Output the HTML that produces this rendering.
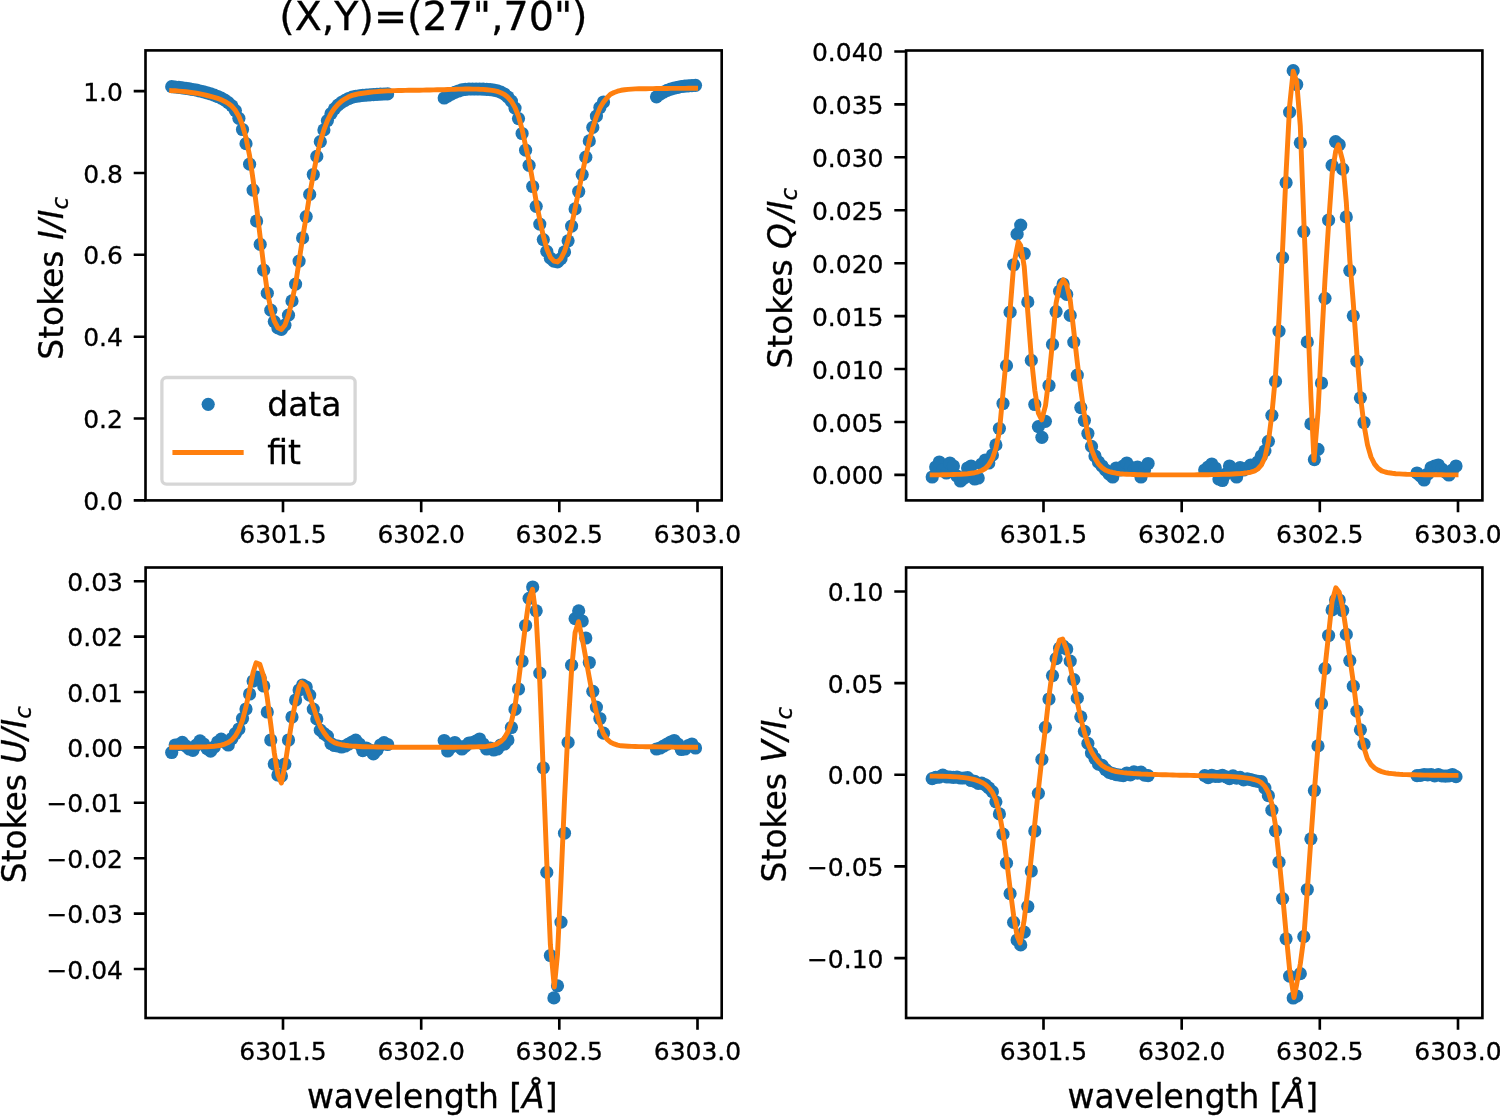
<!DOCTYPE html>
<html lang="en"><head><meta charset="utf-8"><title>Stokes profiles fit</title>
<style>html,body{margin:0;padding:0;background:#fff}svg{display:block}svg text{stroke:#000;stroke-width:0.3px;paint-order:stroke}</style></head>
<body>
<svg width="1500" height="1116" viewBox="0 0 1500 1116" font-family="'DejaVu Sans','Liberation Sans',sans-serif" >
<rect width="1500" height="1116" fill="#fff"/>
<g id="ax0">
<clipPath id="c0"><rect x="145.5" y="50.4" width="576.2" height="450.0"/></clipPath>
<g clip-path="url(#c0)">
<g fill="#1f77b4"><circle cx="171.7" cy="86.7" r="6.6"/><circle cx="175.2" cy="87.0" r="6.6"/><circle cx="178.8" cy="87.4" r="6.6"/><circle cx="182.3" cy="87.9" r="6.6"/><circle cx="185.9" cy="88.4" r="6.6"/><circle cx="189.4" cy="88.9" r="6.6"/><circle cx="192.9" cy="89.5" r="6.6"/><circle cx="196.5" cy="90.2" r="6.6"/><circle cx="200.0" cy="91.0" r="6.6"/><circle cx="203.6" cy="91.9" r="6.6"/><circle cx="207.1" cy="92.9" r="6.6"/><circle cx="210.6" cy="93.9" r="6.6"/><circle cx="214.2" cy="95.1" r="6.6"/><circle cx="217.7" cy="96.5" r="6.6"/><circle cx="221.2" cy="98.2" r="6.6"/><circle cx="224.8" cy="100.1" r="6.6"/><circle cx="228.3" cy="102.6" r="6.6"/><circle cx="231.9" cy="105.8" r="6.6"/><circle cx="235.4" cy="110.6" r="6.6"/><circle cx="238.9" cy="118.3" r="6.6"/><circle cx="242.5" cy="129.5" r="6.6"/><circle cx="246.0" cy="143.7" r="6.6"/><circle cx="249.6" cy="164.2" r="6.6"/><circle cx="253.1" cy="190.1" r="6.6"/><circle cx="256.6" cy="221.0" r="6.6"/><circle cx="260.2" cy="244.4" r="6.6"/><circle cx="263.7" cy="270.2" r="6.6"/><circle cx="267.3" cy="293.2" r="6.6"/><circle cx="270.8" cy="310.2" r="6.6"/><circle cx="274.3" cy="321.6" r="6.6"/><circle cx="277.9" cy="327.9" r="6.6"/><circle cx="281.4" cy="329.4" r="6.6"/><circle cx="284.9" cy="325.2" r="6.6"/><circle cx="288.5" cy="315.2" r="6.6"/><circle cx="292.0" cy="300.9" r="6.6"/><circle cx="295.6" cy="284.1" r="6.6"/><circle cx="299.1" cy="261.1" r="6.6"/><circle cx="302.6" cy="237.9" r="6.6"/><circle cx="306.2" cy="216.6" r="6.6"/><circle cx="309.7" cy="194.4" r="6.6"/><circle cx="313.3" cy="174.5" r="6.6"/><circle cx="316.8" cy="156.4" r="6.6"/><circle cx="320.3" cy="141.7" r="6.6"/><circle cx="323.9" cy="129.9" r="6.6"/><circle cx="327.4" cy="120.6" r="6.6"/><circle cx="331.0" cy="113.7" r="6.6"/><circle cx="334.5" cy="108.8" r="6.6"/><circle cx="338.0" cy="105.1" r="6.6"/><circle cx="341.6" cy="102.3" r="6.6"/><circle cx="345.1" cy="100.3" r="6.6"/><circle cx="348.6" cy="98.5" r="6.6"/><circle cx="352.2" cy="97.2" r="6.6"/><circle cx="355.7" cy="96.4" r="6.6"/><circle cx="359.3" cy="95.9" r="6.6"/><circle cx="362.8" cy="95.4" r="6.6"/><circle cx="366.3" cy="95.1" r="6.6"/><circle cx="369.9" cy="94.9" r="6.6"/><circle cx="373.4" cy="94.6" r="6.6"/><circle cx="377.0" cy="94.4" r="6.6"/><circle cx="380.5" cy="94.2" r="6.6"/><circle cx="384.0" cy="94.0" r="6.6"/><circle cx="387.6" cy="93.9" r="6.6"/><circle cx="444.2" cy="98.0" r="6.6"/><circle cx="447.7" cy="96.1" r="6.6"/><circle cx="451.3" cy="94.0" r="6.6"/><circle cx="454.8" cy="92.3" r="6.6"/><circle cx="458.4" cy="91.0" r="6.6"/><circle cx="461.9" cy="89.9" r="6.6"/><circle cx="465.4" cy="89.3" r="6.6"/><circle cx="469.0" cy="89.0" r="6.6"/><circle cx="472.5" cy="89.0" r="6.6"/><circle cx="476.1" cy="89.0" r="6.6"/><circle cx="479.6" cy="89.0" r="6.6"/><circle cx="483.1" cy="89.1" r="6.6"/><circle cx="486.7" cy="89.3" r="6.6"/><circle cx="490.2" cy="89.6" r="6.6"/><circle cx="493.7" cy="90.1" r="6.6"/><circle cx="497.3" cy="90.8" r="6.6"/><circle cx="500.8" cy="92.1" r="6.6"/><circle cx="504.4" cy="94.0" r="6.6"/><circle cx="507.9" cy="97.0" r="6.6"/><circle cx="511.4" cy="101.1" r="6.6"/><circle cx="515.0" cy="108.1" r="6.6"/><circle cx="518.5" cy="118.6" r="6.6"/><circle cx="522.1" cy="133.5" r="6.6"/><circle cx="525.6" cy="150.2" r="6.6"/><circle cx="529.1" cy="165.3" r="6.6"/><circle cx="532.7" cy="186.5" r="6.6"/><circle cx="536.2" cy="206.3" r="6.6"/><circle cx="539.8" cy="224.1" r="6.6"/><circle cx="543.3" cy="239.6" r="6.6"/><circle cx="546.8" cy="251.3" r="6.6"/><circle cx="550.4" cy="258.2" r="6.6"/><circle cx="553.9" cy="261.1" r="6.6"/><circle cx="557.5" cy="261.9" r="6.6"/><circle cx="561.0" cy="258.7" r="6.6"/><circle cx="564.5" cy="251.9" r="6.6"/><circle cx="568.1" cy="240.8" r="6.6"/><circle cx="571.6" cy="226.1" r="6.6"/><circle cx="575.1" cy="208.9" r="6.6"/><circle cx="578.7" cy="191.5" r="6.6"/><circle cx="582.2" cy="174.6" r="6.6"/><circle cx="585.8" cy="157.2" r="6.6"/><circle cx="589.3" cy="140.9" r="6.6"/><circle cx="592.8" cy="127.4" r="6.6"/><circle cx="596.4" cy="116.1" r="6.6"/><circle cx="599.9" cy="107.5" r="6.6"/><circle cx="603.5" cy="102.0" r="6.6"/><circle cx="656.5" cy="96.8" r="6.6"/><circle cx="660.1" cy="94.1" r="6.6"/><circle cx="663.6" cy="92.0" r="6.6"/><circle cx="667.2" cy="90.4" r="6.6"/><circle cx="670.7" cy="89.1" r="6.6"/><circle cx="674.2" cy="88.1" r="6.6"/><circle cx="677.8" cy="87.3" r="6.6"/><circle cx="681.3" cy="86.5" r="6.6"/><circle cx="684.9" cy="86.2" r="6.6"/><circle cx="688.4" cy="85.9" r="6.6"/><circle cx="691.9" cy="85.6" r="6.6"/><circle cx="695.5" cy="85.3" r="6.6"/></g>
<polyline points="171.7,90.6 175.2,90.8 178.8,91.1 182.3,91.4 185.9,91.8 189.4,92.2 192.9,92.7 196.5,93.2 200.0,93.9 203.6,94.7 207.1,95.5 210.6,96.4 214.2,97.3 217.7,98.4 221.2,99.8 224.8,101.4 228.3,103.5 231.9,106.3 235.4,110.4 238.9,116.4 242.5,125.3 246.0,137.9 249.6,155.8 253.1,179.9 256.6,207.3 260.2,237.3 263.7,266.0 267.2,290.8 270.8,308.9 274.3,321.0 277.9,327.8 281.4,329.4 284.9,325.2 288.5,315.2 292.0,300.9 295.6,284.1 299.1,261.1 302.6,237.9 306.2,216.6 309.7,194.4 313.3,174.5 316.8,156.4 320.3,141.7 323.9,129.9 327.4,120.6 330.9,113.6 334.5,108.3 338.0,104.3 341.6,101.1 345.1,98.8 348.6,96.8 352.2,95.4 355.7,94.5 359.3,93.7 362.8,93.2 366.4,92.7 369.9,92.3 373.4,91.9 377.0,91.6 380.5,91.3 384.0,91.1 387.6,90.9 391.1,90.8 394.7,90.6 398.2,90.5 401.7,90.5 405.3,90.4 408.8,90.3 412.4,90.3 415.9,90.2 419.4,90.2 423.0,90.1 426.5,90.0 430.1,90.0 433.6,89.9 437.1,89.8 440.7,89.7 444.2,89.7 447.7,89.5 451.3,89.4 454.8,89.3 458.4,89.1 461.9,89.1 465.4,89.0 469.0,89.0 472.5,89.1 476.1,89.1 479.6,89.3 483.1,89.4 486.7,89.7 490.2,90.1 493.8,90.6 497.3,91.4 500.8,92.7 504.4,94.5 507.9,97.3 511.4,101.3 515.0,107.5 518.5,116.3 522.1,129.5 525.6,145.9 529.1,161.3 532.7,181.1 536.2,201.5 539.8,219.8 543.3,235.9 546.8,248.7 550.4,257.4 553.9,261.1 557.5,261.9 561.0,258.5 564.5,251.4 568.1,240.1 571.6,225.4 575.1,208.2 578.7,190.9 582.2,174.1 585.8,156.8 589.3,141.0 592.8,127.8 596.4,116.6 599.9,108.1 603.5,102.1 607.0,97.7 610.5,94.3 614.1,92.5 617.6,91.2 621.1,90.3 624.7,89.8 628.2,89.4 631.8,89.1 635.3,88.9 638.9,88.8 642.4,88.7 645.9,88.7 649.5,88.6 653.0,88.6 656.5,88.5 660.1,88.5 663.6,88.5 667.2,88.5 670.7,88.4 674.2,88.4 677.8,88.4 681.3,88.4 684.9,88.4 688.4,88.3 691.9,88.3 695.5,88.3 695.5,88.3" fill="none" stroke="#ff7f0e" stroke-width="4.94" stroke-linejoin="round" stroke-linecap="square"/>
</g>
<path d="M283.0 500.4v11.8M421.2 500.4v11.8M559.3 500.4v11.8M697.5 500.4v11.8M145.5 500.4h-11.8M145.5 418.5h-11.8M145.5 336.7h-11.8M145.5 254.8h-11.8M145.5 173.0h-11.8M145.5 91.1h-11.8" stroke="#000" stroke-width="2.63" fill="none"/>
<rect x="145.5" y="50.4" width="576.2" height="450.0" fill="none" stroke="#000" stroke-width="2.63" stroke-linejoin="miter"/>
<g font-size="25.0" fill="#000">
<text x="283.0" y="542.7" text-anchor="middle">6301.5</text>
<text x="421.2" y="542.7" text-anchor="middle">6302.0</text>
<text x="559.3" y="542.7" text-anchor="middle">6302.5</text>
<text x="697.5" y="542.7" text-anchor="middle">6303.0</text>
<text x="122.9" y="509.9" text-anchor="end">0.0</text>
<text x="122.9" y="428.0" text-anchor="end">0.2</text>
<text x="122.9" y="346.2" text-anchor="end">0.4</text>
<text x="122.9" y="264.3" text-anchor="end">0.6</text>
<text x="122.9" y="182.5" text-anchor="end">0.8</text>
<text x="122.9" y="100.6" text-anchor="end">1.0</text>
</g>
<text transform="translate(62.6 278.3) rotate(-90)" font-size="32.9" text-anchor="middle">Stokes <tspan font-style="italic">I</tspan><tspan font-style="italic" dx="0">/</tspan><tspan font-style="italic">I</tspan><tspan font-style="italic" font-size="23.03" dy="5.10">c</tspan></text>
</g>
<g id="ax1">
<clipPath id="c1"><rect x="906.1" y="50.5" width="576.3" height="449.9"/></clipPath>
<g clip-path="url(#c1)">
<g fill="#1f77b4"><circle cx="932.2" cy="477.0" r="6.6"/><circle cx="935.7" cy="467.0" r="6.6"/><circle cx="939.3" cy="462.0" r="6.6"/><circle cx="942.8" cy="470.0" r="6.6"/><circle cx="946.4" cy="473.0" r="6.6"/><circle cx="949.9" cy="463.0" r="6.6"/><circle cx="953.4" cy="466.0" r="6.6"/><circle cx="957.0" cy="476.0" r="6.6"/><circle cx="960.5" cy="481.0" r="6.6"/><circle cx="964.1" cy="478.0" r="6.6"/><circle cx="967.6" cy="468.0" r="6.6"/><circle cx="971.1" cy="466.0" r="6.6"/><circle cx="974.7" cy="479.0" r="6.6"/><circle cx="978.2" cy="478.0" r="6.6"/><circle cx="981.7" cy="464.0" r="6.6"/><circle cx="985.3" cy="460.0" r="6.6"/><circle cx="988.8" cy="463.0" r="6.6"/><circle cx="992.4" cy="455.0" r="6.6"/><circle cx="995.9" cy="444.9" r="6.6"/><circle cx="999.4" cy="428.5" r="6.6"/><circle cx="1003.0" cy="403.5" r="6.6"/><circle cx="1006.5" cy="365.7" r="6.6"/><circle cx="1010.1" cy="312.2" r="6.6"/><circle cx="1013.6" cy="264.8" r="6.6"/><circle cx="1017.1" cy="234.2" r="6.6"/><circle cx="1020.7" cy="225.1" r="6.6"/><circle cx="1024.2" cy="253.5" r="6.6"/><circle cx="1027.8" cy="301.9" r="6.6"/><circle cx="1031.3" cy="360.4" r="6.6"/><circle cx="1034.8" cy="404.5" r="6.6"/><circle cx="1038.4" cy="426.6" r="6.6"/><circle cx="1041.9" cy="437.3" r="6.6"/><circle cx="1045.4" cy="421.3" r="6.6"/><circle cx="1049.0" cy="385.5" r="6.6"/><circle cx="1052.5" cy="344.4" r="6.6"/><circle cx="1056.1" cy="311.6" r="6.6"/><circle cx="1059.6" cy="291.2" r="6.6"/><circle cx="1063.1" cy="284.0" r="6.6"/><circle cx="1066.7" cy="294.4" r="6.6"/><circle cx="1070.2" cy="315.4" r="6.6"/><circle cx="1073.8" cy="342.1" r="6.6"/><circle cx="1077.3" cy="375.1" r="6.6"/><circle cx="1080.8" cy="407.6" r="6.6"/><circle cx="1084.4" cy="420.5" r="6.6"/><circle cx="1087.9" cy="433.5" r="6.6"/><circle cx="1091.5" cy="446.4" r="6.6"/><circle cx="1095.0" cy="456.0" r="6.6"/><circle cx="1098.5" cy="462.0" r="6.6"/><circle cx="1102.1" cy="466.0" r="6.6"/><circle cx="1105.6" cy="470.0" r="6.6"/><circle cx="1109.2" cy="474.0" r="6.6"/><circle cx="1112.7" cy="477.0" r="6.6"/><circle cx="1116.2" cy="468.0" r="6.6"/><circle cx="1119.8" cy="470.0" r="6.6"/><circle cx="1123.3" cy="466.0" r="6.6"/><circle cx="1126.8" cy="463.0" r="6.6"/><circle cx="1130.4" cy="467.0" r="6.6"/><circle cx="1133.9" cy="470.0" r="6.6"/><circle cx="1137.5" cy="467.0" r="6.6"/><circle cx="1141.0" cy="477.0" r="6.6"/><circle cx="1144.5" cy="470.0" r="6.6"/><circle cx="1148.1" cy="463.5" r="6.6"/><circle cx="1204.7" cy="470.0" r="6.6"/><circle cx="1208.2" cy="467.0" r="6.6"/><circle cx="1211.8" cy="464.0" r="6.6"/><circle cx="1215.3" cy="468.0" r="6.6"/><circle cx="1218.9" cy="479.0" r="6.6"/><circle cx="1222.4" cy="480.5" r="6.6"/><circle cx="1225.9" cy="474.0" r="6.6"/><circle cx="1229.5" cy="466.0" r="6.6"/><circle cx="1233.0" cy="471.0" r="6.6"/><circle cx="1236.6" cy="477.0" r="6.6"/><circle cx="1240.1" cy="467.5" r="6.6"/><circle cx="1243.6" cy="470.0" r="6.6"/><circle cx="1247.2" cy="468.0" r="6.6"/><circle cx="1250.7" cy="465.0" r="6.6"/><circle cx="1254.2" cy="466.0" r="6.6"/><circle cx="1257.8" cy="462.0" r="6.6"/><circle cx="1261.3" cy="456.0" r="6.6"/><circle cx="1264.9" cy="450.8" r="6.6"/><circle cx="1268.4" cy="441.3" r="6.6"/><circle cx="1271.9" cy="415.3" r="6.6"/><circle cx="1275.5" cy="381.4" r="6.6"/><circle cx="1279.0" cy="331.1" r="6.6"/><circle cx="1282.6" cy="257.7" r="6.6"/><circle cx="1286.1" cy="182.7" r="6.6"/><circle cx="1289.6" cy="112.1" r="6.6"/><circle cx="1293.2" cy="70.7" r="6.6"/><circle cx="1296.7" cy="84.5" r="6.6"/><circle cx="1300.3" cy="142.8" r="6.6"/><circle cx="1303.8" cy="231.7" r="6.6"/><circle cx="1307.3" cy="341.9" r="6.6"/><circle cx="1310.9" cy="423.9" r="6.6"/><circle cx="1314.4" cy="459.6" r="6.6"/><circle cx="1318.0" cy="449.4" r="6.6"/><circle cx="1321.5" cy="383.0" r="6.6"/><circle cx="1325.0" cy="298.3" r="6.6"/><circle cx="1328.6" cy="220.1" r="6.6"/><circle cx="1332.1" cy="165.4" r="6.6"/><circle cx="1335.6" cy="141.6" r="6.6"/><circle cx="1339.2" cy="144.7" r="6.6"/><circle cx="1342.7" cy="169.2" r="6.6"/><circle cx="1346.3" cy="216.9" r="6.6"/><circle cx="1349.8" cy="270.6" r="6.6"/><circle cx="1353.3" cy="315.8" r="6.6"/><circle cx="1356.9" cy="361.2" r="6.6"/><circle cx="1360.4" cy="397.8" r="6.6"/><circle cx="1364.0" cy="422.5" r="6.6"/><circle cx="1417.0" cy="473.0" r="6.6"/><circle cx="1420.6" cy="476.0" r="6.6"/><circle cx="1424.1" cy="480.0" r="6.6"/><circle cx="1427.7" cy="474.0" r="6.6"/><circle cx="1431.2" cy="467.5" r="6.6"/><circle cx="1434.7" cy="466.0" r="6.6"/><circle cx="1438.3" cy="465.0" r="6.6"/><circle cx="1441.8" cy="469.0" r="6.6"/><circle cx="1445.4" cy="472.0" r="6.6"/><circle cx="1448.9" cy="475.0" r="6.6"/><circle cx="1452.4" cy="470.0" r="6.6"/><circle cx="1456.0" cy="466.0" r="6.6"/></g>
<polyline points="932.2,474.9 935.7,474.9 939.3,474.9 942.8,474.8 946.4,474.7 949.9,474.6 953.4,474.5 957.0,474.4 960.5,474.3 964.0,474.0 967.6,473.7 971.1,473.2 974.7,472.7 978.2,471.8 981.8,470.5 985.3,468.5 988.8,464.8 992.4,458.6 995.9,448.3 999.4,431.7 1003.0,392.7 1006.5,356.1 1010.1,310.0 1013.6,265.7 1018.3,241.7 1020.7,245.6 1024.2,266.4 1027.8,312.3 1031.3,356.9 1034.8,390.3 1038.4,413.1 1041.7,419.8 1045.5,405.6 1049.0,377.3 1052.5,341.8 1056.1,303.1 1059.6,286.1 1063.3,279.9 1066.7,285.3 1070.2,300.0 1073.8,331.1 1077.3,362.6 1080.8,390.0 1084.4,415.0 1087.9,435.2 1091.5,449.4 1095.0,458.2 1098.5,464.1 1102.1,467.7 1105.6,470.3 1109.2,471.6 1112.7,472.5 1116.2,473.2 1119.8,473.7 1123.3,474.0 1126.8,474.2 1130.4,474.4 1133.9,474.5 1137.5,474.7 1141.0,474.8 1144.5,474.9 1148.1,474.9 1151.6,474.9 1155.2,474.9 1158.7,474.9 1162.2,474.9 1165.8,474.9 1169.3,474.9 1172.8,474.9 1176.4,474.9 1179.9,474.9 1183.5,474.9 1187.0,474.9 1190.5,474.9 1194.1,474.9 1197.6,474.8 1201.2,474.8 1204.7,474.7 1208.2,474.7 1211.8,474.6 1215.3,474.6 1218.9,474.5 1222.4,474.4 1225.9,474.3 1229.5,474.2 1233.0,474.0 1236.5,473.8 1240.1,473.6 1243.6,473.3 1247.2,472.8 1250.7,472.2 1254.2,471.2 1257.8,469.0 1261.3,465.2 1264.9,457.5 1268.4,441.7 1271.9,414.0 1275.5,375.5 1279.0,318.7 1282.6,248.6 1286.1,172.5 1289.6,106.1 1293.2,71.3 1296.7,81.8 1300.3,126.0 1303.8,219.8 1307.3,305.7 1310.9,396.9 1314.0,460.2 1318.0,412.1 1321.5,343.5 1325.0,279.4 1328.6,223.8 1332.1,174.1 1335.7,151.1 1338.4,144.7 1342.7,161.0 1346.3,202.2 1349.8,259.8 1353.3,303.3 1356.9,353.7 1360.4,396.0 1364.0,425.0 1367.5,444.9 1371.0,457.0 1374.6,464.1 1378.1,468.4 1381.7,470.9 1385.2,472.0 1388.7,472.8 1392.3,473.3 1395.8,473.7 1399.3,473.9 1402.9,474.1 1406.4,474.3 1410.0,474.4 1413.5,474.5 1417.0,474.6 1420.6,474.6 1424.1,474.7 1427.7,474.7 1431.2,474.8 1434.7,474.8 1438.3,474.8 1441.8,474.8 1445.4,474.9 1448.9,474.9 1452.4,474.9 1456.0,474.9 1456.0,474.9" fill="none" stroke="#ff7f0e" stroke-width="4.94" stroke-linejoin="round" stroke-linecap="square"/>
</g>
<path d="M1043.5 500.4v11.8M1181.7 500.4v11.8M1319.8 500.4v11.8M1458.0 500.4v11.8M906.1 474.9h-11.8M906.1 422.0h-11.8M906.1 369.0h-11.8M906.1 316.1h-11.8M906.1 263.2h-11.8M906.1 210.3h-11.8M906.1 157.3h-11.8M906.1 104.4h-11.8M906.1 51.5h-11.8" stroke="#000" stroke-width="2.63" fill="none"/>
<rect x="906.1" y="50.5" width="576.3" height="449.9" fill="none" stroke="#000" stroke-width="2.63" stroke-linejoin="miter"/>
<g font-size="25.0" fill="#000">
<text x="1043.5" y="542.7" text-anchor="middle">6301.5</text>
<text x="1181.7" y="542.7" text-anchor="middle">6302.0</text>
<text x="1319.8" y="542.7" text-anchor="middle">6302.5</text>
<text x="1458.0" y="542.7" text-anchor="middle">6303.0</text>
<text x="883.5" y="484.4" text-anchor="end">0.000</text>
<text x="883.5" y="431.5" text-anchor="end">0.005</text>
<text x="883.5" y="378.5" text-anchor="end">0.010</text>
<text x="883.5" y="325.6" text-anchor="end">0.015</text>
<text x="883.5" y="272.7" text-anchor="end">0.020</text>
<text x="883.5" y="219.8" text-anchor="end">0.025</text>
<text x="883.5" y="166.8" text-anchor="end">0.030</text>
<text x="883.5" y="113.9" text-anchor="end">0.035</text>
<text x="883.5" y="61.0" text-anchor="end">0.040</text>
</g>
<text transform="translate(792.3 278.2) rotate(-90)" font-size="32.9" text-anchor="middle">Stokes <tspan font-style="italic">Q</tspan><tspan font-style="italic" dx="1.8">/</tspan><tspan font-style="italic">I</tspan><tspan font-style="italic" font-size="23.03" dy="5.10">c</tspan></text>
</g>
<g id="ax2">
<clipPath id="c2"><rect x="145.6" y="567.5" width="576.1" height="450.5"/></clipPath>
<g clip-path="url(#c2)">
<g fill="#1f77b4"><circle cx="171.7" cy="752.5" r="6.6"/><circle cx="175.2" cy="745.0" r="6.6"/><circle cx="178.8" cy="744.5" r="6.6"/><circle cx="182.3" cy="742.4" r="6.6"/><circle cx="185.9" cy="746.0" r="6.6"/><circle cx="189.4" cy="749.0" r="6.6"/><circle cx="192.9" cy="750.4" r="6.6"/><circle cx="196.5" cy="745.0" r="6.6"/><circle cx="200.0" cy="740.8" r="6.6"/><circle cx="203.6" cy="744.0" r="6.6"/><circle cx="207.1" cy="748.5" r="6.6"/><circle cx="210.6" cy="751.2" r="6.6"/><circle cx="214.2" cy="747.0" r="6.6"/><circle cx="217.7" cy="742.0" r="6.6"/><circle cx="221.2" cy="739.2" r="6.6"/><circle cx="224.8" cy="742.0" r="6.6"/><circle cx="228.3" cy="745.0" r="6.6"/><circle cx="231.9" cy="738.5" r="6.6"/><circle cx="235.4" cy="733.5" r="6.6"/><circle cx="238.9" cy="729.0" r="6.6"/><circle cx="242.5" cy="718.5" r="6.6"/><circle cx="246.0" cy="709.0" r="6.6"/><circle cx="249.6" cy="694.0" r="6.6"/><circle cx="253.1" cy="681.0" r="6.6"/><circle cx="256.6" cy="677.0" r="6.6"/><circle cx="260.2" cy="678.0" r="6.6"/><circle cx="263.7" cy="686.0" r="6.6"/><circle cx="267.3" cy="712.0" r="6.6"/><circle cx="270.8" cy="740.0" r="6.6"/><circle cx="274.3" cy="764.0" r="6.6"/><circle cx="277.9" cy="775.0" r="6.6"/><circle cx="281.4" cy="776.0" r="6.6"/><circle cx="284.9" cy="764.0" r="6.6"/><circle cx="288.5" cy="740.0" r="6.6"/><circle cx="292.0" cy="717.0" r="6.6"/><circle cx="295.6" cy="700.0" r="6.6"/><circle cx="299.1" cy="690.0" r="6.6"/><circle cx="302.6" cy="685.0" r="6.6"/><circle cx="306.2" cy="687.0" r="6.6"/><circle cx="309.7" cy="695.1" r="6.6"/><circle cx="313.3" cy="709.1" r="6.6"/><circle cx="316.8" cy="718.9" r="6.6"/><circle cx="320.3" cy="730.2" r="6.6"/><circle cx="323.9" cy="733.5" r="6.6"/><circle cx="327.4" cy="736.1" r="6.6"/><circle cx="331.0" cy="743.5" r="6.6"/><circle cx="334.5" cy="745.5" r="6.6"/><circle cx="338.0" cy="746.0" r="6.6"/><circle cx="341.6" cy="747.0" r="6.6"/><circle cx="345.1" cy="746.0" r="6.6"/><circle cx="348.6" cy="744.0" r="6.6"/><circle cx="352.2" cy="742.0" r="6.6"/><circle cx="355.7" cy="740.2" r="6.6"/><circle cx="359.3" cy="744.0" r="6.6"/><circle cx="362.8" cy="750.6" r="6.6"/><circle cx="366.3" cy="748.0" r="6.6"/><circle cx="369.9" cy="750.0" r="6.6"/><circle cx="373.4" cy="753.9" r="6.6"/><circle cx="377.0" cy="750.0" r="6.6"/><circle cx="380.5" cy="745.0" r="6.6"/><circle cx="384.0" cy="742.6" r="6.6"/><circle cx="387.6" cy="744.5" r="6.6"/><circle cx="444.2" cy="740.5" r="6.6"/><circle cx="447.7" cy="751.0" r="6.6"/><circle cx="451.3" cy="747.0" r="6.6"/><circle cx="454.8" cy="742.5" r="6.6"/><circle cx="458.4" cy="746.0" r="6.6"/><circle cx="461.9" cy="749.0" r="6.6"/><circle cx="465.4" cy="746.0" r="6.6"/><circle cx="469.0" cy="743.0" r="6.6"/><circle cx="472.5" cy="742.5" r="6.6"/><circle cx="476.1" cy="741.0" r="6.6"/><circle cx="479.6" cy="739.0" r="6.6"/><circle cx="483.1" cy="744.0" r="6.6"/><circle cx="486.7" cy="749.0" r="6.6"/><circle cx="490.2" cy="748.0" r="6.6"/><circle cx="493.7" cy="750.0" r="6.6"/><circle cx="497.3" cy="749.0" r="6.6"/><circle cx="500.8" cy="745.0" r="6.6"/><circle cx="504.4" cy="744.0" r="6.6"/><circle cx="507.9" cy="740.0" r="6.6"/><circle cx="511.4" cy="727.5" r="6.6"/><circle cx="515.0" cy="709.4" r="6.6"/><circle cx="518.5" cy="689.0" r="6.6"/><circle cx="522.1" cy="661.0" r="6.6"/><circle cx="525.6" cy="625.5" r="6.6"/><circle cx="529.1" cy="598.3" r="6.6"/><circle cx="532.7" cy="587.0" r="6.6"/><circle cx="536.2" cy="610.8" r="6.6"/><circle cx="539.8" cy="673.1" r="6.6"/><circle cx="543.3" cy="767.8" r="6.6"/><circle cx="546.8" cy="872.4" r="6.6"/><circle cx="550.4" cy="955.5" r="6.6"/><circle cx="553.9" cy="997.9" r="6.6"/><circle cx="557.5" cy="985.8" r="6.6"/><circle cx="561.0" cy="922.1" r="6.6"/><circle cx="564.5" cy="833.2" r="6.6"/><circle cx="568.1" cy="742.4" r="6.6"/><circle cx="571.6" cy="665.2" r="6.6"/><circle cx="575.1" cy="618.7" r="6.6"/><circle cx="578.7" cy="610.8" r="6.6"/><circle cx="582.2" cy="621.0" r="6.6"/><circle cx="585.8" cy="638.0" r="6.6"/><circle cx="589.3" cy="662.5" r="6.6"/><circle cx="592.8" cy="691.3" r="6.6"/><circle cx="596.4" cy="707.1" r="6.6"/><circle cx="599.9" cy="718.5" r="6.6"/><circle cx="603.5" cy="733.2" r="6.6"/><circle cx="656.5" cy="749.0" r="6.6"/><circle cx="660.1" cy="748.0" r="6.6"/><circle cx="663.6" cy="746.0" r="6.6"/><circle cx="667.2" cy="744.0" r="6.6"/><circle cx="670.7" cy="742.0" r="6.6"/><circle cx="674.2" cy="740.5" r="6.6"/><circle cx="677.8" cy="744.0" r="6.6"/><circle cx="681.3" cy="749.5" r="6.6"/><circle cx="684.9" cy="749.0" r="6.6"/><circle cx="688.4" cy="745.5" r="6.6"/><circle cx="691.9" cy="744.0" r="6.6"/><circle cx="695.5" cy="748.0" r="6.6"/></g>
<polyline points="171.7,747.2 175.2,747.2 178.8,747.2 182.3,747.2 185.9,747.1 189.4,747.1 192.9,747.1 196.5,747.0 200.0,747.0 203.6,746.9 207.1,746.8 210.6,746.5 214.2,746.2 217.7,745.8 221.2,745.2 224.8,744.1 228.3,742.5 231.9,739.9 235.4,735.9 238.9,729.7 242.5,720.1 246.0,706.7 249.6,690.3 253.1,672.6 256.1,662.9 259.8,664.3 263.7,676.4 267.2,697.7 270.8,724.7 274.3,752.9 277.9,775.0 281.4,782.9 284.9,766.0 288.5,742.3 292.0,720.3 295.6,701.2 299.1,686.8 301.4,682.4 306.2,686.5 309.7,695.9 313.3,706.8 316.8,717.8 320.3,726.4 323.9,732.5 327.4,737.3 330.9,740.4 334.5,742.6 338.0,743.9 341.6,744.7 345.1,745.3 348.6,745.8 352.2,746.1 355.7,746.3 359.3,746.5 362.8,746.7 366.4,746.8 369.9,746.9 373.4,746.9 377.0,747.0 380.5,747.1 384.0,747.1 387.6,747.2 391.1,747.2 394.7,747.2 398.2,747.2 401.7,747.2 405.3,747.2 408.8,747.2 412.4,747.2 415.9,747.2 419.4,747.2 423.0,747.2 426.5,747.2 430.1,747.2 433.6,747.2 437.1,747.2 440.7,747.2 444.2,747.2 447.7,747.2 451.3,747.2 454.8,747.2 458.4,747.1 461.9,747.1 465.4,747.1 469.0,747.0 472.5,747.0 476.1,746.9 479.6,746.8 483.1,746.8 486.7,746.4 490.2,745.8 493.8,745.0 497.3,743.8 500.8,741.4 504.4,737.9 507.9,731.7 511.4,721.9 515.0,706.1 518.5,681.6 522.1,652.7 525.6,623.9 529.1,598.7 532.5,589.3 536.2,617.2 539.8,682.3 543.3,773.0 546.8,862.8 550.4,944.8 554.3,987.0 557.5,954.2 561.0,880.3 564.5,799.9 568.1,727.9 571.6,669.5 575.1,632.6 578.5,621.7 582.2,638.3 585.8,658.3 589.3,677.6 592.8,696.5 596.4,712.6 599.9,724.4 603.5,733.8 607.0,739.1 610.5,742.3 614.1,743.9 617.6,745.1 621.1,745.8 624.7,746.0 628.2,746.2 631.8,746.4 635.3,746.5 638.9,746.6 642.4,746.6 645.9,746.7 649.5,746.8 653.0,746.8 656.5,746.9 660.1,746.9 663.6,747.0 667.2,747.0 670.7,747.0 674.2,747.1 677.8,747.1 681.3,747.1 684.9,747.2 688.4,747.2 691.9,747.2 695.5,747.2 695.5,747.2" fill="none" stroke="#ff7f0e" stroke-width="4.94" stroke-linejoin="round" stroke-linecap="square"/>
</g>
<path d="M283.0 1018.0v11.8M421.2 1018.0v11.8M559.3 1018.0v11.8M697.5 1018.0v11.8M145.6 969.0h-11.8M145.6 913.6h-11.8M145.6 858.2h-11.8M145.6 802.8h-11.8M145.6 747.4h-11.8M145.6 692.0h-11.8M145.6 636.6h-11.8M145.6 581.2h-11.8" stroke="#000" stroke-width="2.63" fill="none"/>
<rect x="145.6" y="567.5" width="576.1" height="450.5" fill="none" stroke="#000" stroke-width="2.63" stroke-linejoin="miter"/>
<g font-size="25.0" fill="#000">
<text x="283.0" y="1060.3" text-anchor="middle">6301.5</text>
<text x="421.2" y="1060.3" text-anchor="middle">6302.0</text>
<text x="559.3" y="1060.3" text-anchor="middle">6302.5</text>
<text x="697.5" y="1060.3" text-anchor="middle">6303.0</text>
<text x="123.0" y="978.5" text-anchor="end">−0.04</text>
<text x="123.0" y="923.1" text-anchor="end">−0.03</text>
<text x="123.0" y="867.7" text-anchor="end">−0.02</text>
<text x="123.0" y="812.3" text-anchor="end">−0.01</text>
<text x="123.0" y="756.9" text-anchor="end">0.00</text>
<text x="123.0" y="701.5" text-anchor="end">0.01</text>
<text x="123.0" y="646.1" text-anchor="end">0.02</text>
<text x="123.0" y="590.7" text-anchor="end">0.03</text>
</g>
<text transform="translate(25.8 794.6) rotate(-90)" font-size="32.9" text-anchor="middle">Stokes <tspan font-style="italic">U</tspan><tspan font-style="italic" dx="0">/</tspan><tspan font-style="italic">I</tspan><tspan font-style="italic" font-size="23.03" dy="5.10">c</tspan></text>
<text x="432.2" y="1108.4" font-size="32.95" text-anchor="middle">wavelength [<tspan font-style="italic">Å</tspan>]</text>
</g>
<g id="ax3">
<clipPath id="c3"><rect x="906.1" y="567.5" width="576.3" height="450.5"/></clipPath>
<g clip-path="url(#c3)">
<g fill="#1f77b4"><circle cx="932.2" cy="778.7" r="6.6"/><circle cx="935.7" cy="777.4" r="6.6"/><circle cx="939.3" cy="777.1" r="6.6"/><circle cx="942.8" cy="775.2" r="6.6"/><circle cx="946.4" cy="776.9" r="6.6"/><circle cx="949.9" cy="777.0" r="6.6"/><circle cx="953.4" cy="777.4" r="6.6"/><circle cx="957.0" cy="777.1" r="6.6"/><circle cx="960.5" cy="778.0" r="6.6"/><circle cx="964.1" cy="778.0" r="6.6"/><circle cx="967.6" cy="777.6" r="6.6"/><circle cx="971.1" cy="780.5" r="6.6"/><circle cx="974.7" cy="781.4" r="6.6"/><circle cx="978.2" cy="783.3" r="6.6"/><circle cx="981.7" cy="783.2" r="6.6"/><circle cx="985.3" cy="784.9" r="6.6"/><circle cx="988.8" cy="787.9" r="6.6"/><circle cx="992.4" cy="791.7" r="6.6"/><circle cx="995.9" cy="801.8" r="6.6"/><circle cx="999.4" cy="813.9" r="6.6"/><circle cx="1003.0" cy="834.2" r="6.6"/><circle cx="1006.5" cy="863.2" r="6.6"/><circle cx="1010.1" cy="893.7" r="6.6"/><circle cx="1013.6" cy="922.3" r="6.6"/><circle cx="1017.1" cy="940.0" r="6.6"/><circle cx="1020.7" cy="944.9" r="6.6"/><circle cx="1024.2" cy="932.1" r="6.6"/><circle cx="1027.8" cy="906.5" r="6.6"/><circle cx="1031.3" cy="871.0" r="6.6"/><circle cx="1034.8" cy="831.0" r="6.6"/><circle cx="1038.4" cy="793.3" r="6.6"/><circle cx="1041.9" cy="759.4" r="6.6"/><circle cx="1045.4" cy="727.3" r="6.6"/><circle cx="1049.0" cy="699.0" r="6.6"/><circle cx="1052.5" cy="675.6" r="6.6"/><circle cx="1056.1" cy="658.7" r="6.6"/><circle cx="1059.6" cy="648.2" r="6.6"/><circle cx="1063.1" cy="646.0" r="6.6"/><circle cx="1066.7" cy="649.0" r="6.6"/><circle cx="1070.2" cy="661.1" r="6.6"/><circle cx="1073.8" cy="679.7" r="6.6"/><circle cx="1077.3" cy="698.2" r="6.6"/><circle cx="1080.8" cy="716.8" r="6.6"/><circle cx="1084.4" cy="731.3" r="6.6"/><circle cx="1087.9" cy="743.4" r="6.6"/><circle cx="1091.5" cy="753.1" r="6.6"/><circle cx="1095.0" cy="758.5" r="6.6"/><circle cx="1098.5" cy="764.1" r="6.6"/><circle cx="1102.1" cy="765.3" r="6.6"/><circle cx="1105.6" cy="769.5" r="6.6"/><circle cx="1109.2" cy="772.4" r="6.6"/><circle cx="1112.7" cy="773.5" r="6.6"/><circle cx="1116.2" cy="774.6" r="6.6"/><circle cx="1119.8" cy="775.2" r="6.6"/><circle cx="1123.3" cy="775.7" r="6.6"/><circle cx="1126.8" cy="773.0" r="6.6"/><circle cx="1130.4" cy="774.8" r="6.6"/><circle cx="1133.9" cy="771.9" r="6.6"/><circle cx="1137.5" cy="773.2" r="6.6"/><circle cx="1141.0" cy="772.1" r="6.6"/><circle cx="1144.5" cy="775.2" r="6.6"/><circle cx="1148.1" cy="775.6" r="6.6"/><circle cx="1204.7" cy="775.6" r="6.6"/><circle cx="1208.2" cy="777.7" r="6.6"/><circle cx="1211.8" cy="775.4" r="6.6"/><circle cx="1215.3" cy="776.3" r="6.6"/><circle cx="1218.9" cy="776.4" r="6.6"/><circle cx="1222.4" cy="775.3" r="6.6"/><circle cx="1225.9" cy="776.9" r="6.6"/><circle cx="1229.5" cy="778.6" r="6.6"/><circle cx="1233.0" cy="775.9" r="6.6"/><circle cx="1236.6" cy="778.1" r="6.6"/><circle cx="1240.1" cy="777.4" r="6.6"/><circle cx="1243.6" cy="779.8" r="6.6"/><circle cx="1247.2" cy="778.9" r="6.6"/><circle cx="1250.7" cy="779.7" r="6.6"/><circle cx="1254.2" cy="780.6" r="6.6"/><circle cx="1257.8" cy="781.4" r="6.6"/><circle cx="1261.3" cy="781.7" r="6.6"/><circle cx="1264.9" cy="788.0" r="6.6"/><circle cx="1268.4" cy="795.7" r="6.6"/><circle cx="1271.9" cy="810.2" r="6.6"/><circle cx="1275.5" cy="830.8" r="6.6"/><circle cx="1279.0" cy="862.2" r="6.6"/><circle cx="1282.6" cy="898.6" r="6.6"/><circle cx="1286.1" cy="938.8" r="6.6"/><circle cx="1289.6" cy="976.1" r="6.6"/><circle cx="1293.2" cy="998.0" r="6.6"/><circle cx="1296.7" cy="996.0" r="6.6"/><circle cx="1300.3" cy="973.7" r="6.6"/><circle cx="1303.8" cy="936.7" r="6.6"/><circle cx="1307.3" cy="889.5" r="6.6"/><circle cx="1310.9" cy="838.8" r="6.6"/><circle cx="1314.4" cy="790.6" r="6.6"/><circle cx="1318.0" cy="745.9" r="6.6"/><circle cx="1321.5" cy="703.7" r="6.6"/><circle cx="1325.0" cy="668.7" r="6.6"/><circle cx="1328.6" cy="635.5" r="6.6"/><circle cx="1332.1" cy="609.9" r="6.6"/><circle cx="1335.6" cy="600.0" r="6.6"/><circle cx="1339.2" cy="600.0" r="6.6"/><circle cx="1342.7" cy="610.5" r="6.6"/><circle cx="1346.3" cy="634.4" r="6.6"/><circle cx="1349.8" cy="660.6" r="6.6"/><circle cx="1353.3" cy="686.2" r="6.6"/><circle cx="1356.9" cy="711.2" r="6.6"/><circle cx="1360.4" cy="729.8" r="6.6"/><circle cx="1364.0" cy="744.2" r="6.6"/><circle cx="1417.0" cy="775.6" r="6.6"/><circle cx="1420.6" cy="775.3" r="6.6"/><circle cx="1424.1" cy="774.5" r="6.6"/><circle cx="1427.7" cy="774.9" r="6.6"/><circle cx="1431.2" cy="774.7" r="6.6"/><circle cx="1434.7" cy="775.9" r="6.6"/><circle cx="1438.3" cy="774.6" r="6.6"/><circle cx="1441.8" cy="775.8" r="6.6"/><circle cx="1445.4" cy="776.2" r="6.6"/><circle cx="1448.9" cy="775.8" r="6.6"/><circle cx="1452.4" cy="774.5" r="6.6"/><circle cx="1456.0" cy="776.7" r="6.6"/></g>
<polyline points="932.2,776.1 935.7,776.1 939.3,776.2 942.8,776.3 946.4,776.4 949.9,776.5 953.4,776.7 957.0,776.9 960.5,777.3 964.0,777.6 967.6,778.1 971.1,778.8 974.7,779.7 978.2,780.8 981.8,782.4 985.3,784.5 988.8,787.7 992.4,792.4 995.9,800.1 999.4,813.3 1003.0,833.2 1006.5,858.8 1010.1,888.7 1013.6,915.4 1017.1,935.9 1020.1,943.0 1024.2,920.0 1027.8,889.7 1031.3,856.9 1034.8,823.6 1038.4,789.6 1041.9,758.0 1045.5,727.2 1049.0,696.2 1052.5,669.9 1056.1,650.7 1059.6,640.1 1062.7,639.0 1066.7,649.8 1070.2,666.2 1073.8,684.1 1077.3,702.0 1080.8,718.5 1084.4,732.5 1087.9,743.7 1091.5,751.7 1095.0,757.6 1098.5,762.0 1102.1,765.5 1105.6,767.7 1109.2,769.3 1112.7,770.6 1116.2,771.5 1119.8,772.1 1123.3,772.6 1126.8,773.0 1130.4,773.3 1133.9,773.6 1137.5,773.8 1141.0,774.0 1144.5,774.1 1148.1,774.3 1151.6,774.4 1155.2,774.5 1158.7,774.6 1162.2,774.7 1165.8,774.8 1169.3,774.9 1172.8,775.0 1176.4,775.1 1179.9,775.2 1183.5,775.3 1187.0,775.3 1190.5,775.4 1194.1,775.5 1197.6,775.6 1201.2,775.7 1204.7,775.8 1208.2,775.9 1211.8,775.9 1215.3,776.0 1218.9,776.1 1222.4,776.2 1225.9,776.3 1229.5,776.4 1233.0,776.6 1236.5,776.9 1240.1,777.2 1243.6,777.6 1247.2,778.1 1250.7,778.6 1254.2,779.5 1257.8,780.7 1261.3,782.7 1264.9,786.4 1268.4,792.5 1271.9,803.9 1275.5,825.6 1279.0,857.6 1282.6,894.7 1286.1,933.5 1289.6,969.5 1294.0,997.6 1296.7,984.4 1300.3,963.9 1303.8,937.7 1307.3,890.4 1310.9,839.2 1314.4,790.4 1318.0,746.5 1321.5,704.9 1325.0,667.7 1328.6,634.3 1332.1,601.5 1335.8,587.8 1339.2,592.3 1342.7,607.9 1346.3,631.7 1349.8,657.6 1353.3,682.2 1356.9,710.8 1360.4,733.0 1364.0,748.0 1367.5,758.9 1371.0,764.6 1374.6,768.0 1378.1,770.1 1381.7,771.6 1385.2,772.6 1388.7,773.2 1392.3,773.6 1395.8,774.0 1399.3,774.3 1402.9,774.5 1406.4,774.6 1410.0,774.7 1413.5,774.8 1417.0,774.9 1420.6,775.0 1424.1,775.1 1427.7,775.1 1431.2,775.2 1434.7,775.2 1438.3,775.2 1441.8,775.3 1445.4,775.3 1448.9,775.4 1452.4,775.4 1456.0,775.4 1456.0,775.4" fill="none" stroke="#ff7f0e" stroke-width="4.94" stroke-linejoin="round" stroke-linecap="square"/>
</g>
<path d="M1043.5 1018.0v11.8M1181.7 1018.0v11.8M1319.8 1018.0v11.8M1458.0 1018.0v11.8M906.1 958.1h-11.8M906.1 866.4h-11.8M906.1 774.8h-11.8M906.1 683.1h-11.8M906.1 591.5h-11.8" stroke="#000" stroke-width="2.63" fill="none"/>
<rect x="906.1" y="567.5" width="576.3" height="450.5" fill="none" stroke="#000" stroke-width="2.63" stroke-linejoin="miter"/>
<g font-size="25.0" fill="#000">
<text x="1043.5" y="1060.3" text-anchor="middle">6301.5</text>
<text x="1181.7" y="1060.3" text-anchor="middle">6302.0</text>
<text x="1319.8" y="1060.3" text-anchor="middle">6302.5</text>
<text x="1458.0" y="1060.3" text-anchor="middle">6303.0</text>
<text x="883.5" y="967.6" text-anchor="end">−0.10</text>
<text x="883.5" y="875.9" text-anchor="end">−0.05</text>
<text x="883.5" y="784.3" text-anchor="end">0.00</text>
<text x="883.5" y="692.6" text-anchor="end">0.05</text>
<text x="883.5" y="601.0" text-anchor="end">0.10</text>
</g>
<text transform="translate(786.4 794.6) rotate(-90)" font-size="32.9" text-anchor="middle">Stokes <tspan font-style="italic">V</tspan><tspan font-style="italic" dx="0">/</tspan><tspan font-style="italic">I</tspan><tspan font-style="italic" font-size="23.03" dy="5.10">c</tspan></text>
<text x="1192.8" y="1108.4" font-size="32.95" text-anchor="middle">wavelength [<tspan font-style="italic">Å</tspan>]</text>
</g>
<text x="433.4" y="30.0" font-size="39.55" text-anchor="middle">(X,Y)=(27",70")</text>
<g id="legend">
<rect x="161.9" y="377.5" width="193.2" height="106.7" rx="4.6" ry="4.6" fill="#fff" fill-opacity="0.8" stroke="#cccccc" stroke-opacity="0.8" stroke-width="3.29"/>
<circle cx="208.2" cy="404.3" r="6.6" fill="#1f77b4"/>
<path d="M174.9 452.5h66.3" stroke="#ff7f0e" stroke-width="4.94" stroke-linecap="square"/>
<text x="267.3" y="415.7" font-size="32.9">data</text>
<text x="267.3" y="464.4" font-size="32.9">fit</text>
</g>
</svg>
</body></html>
